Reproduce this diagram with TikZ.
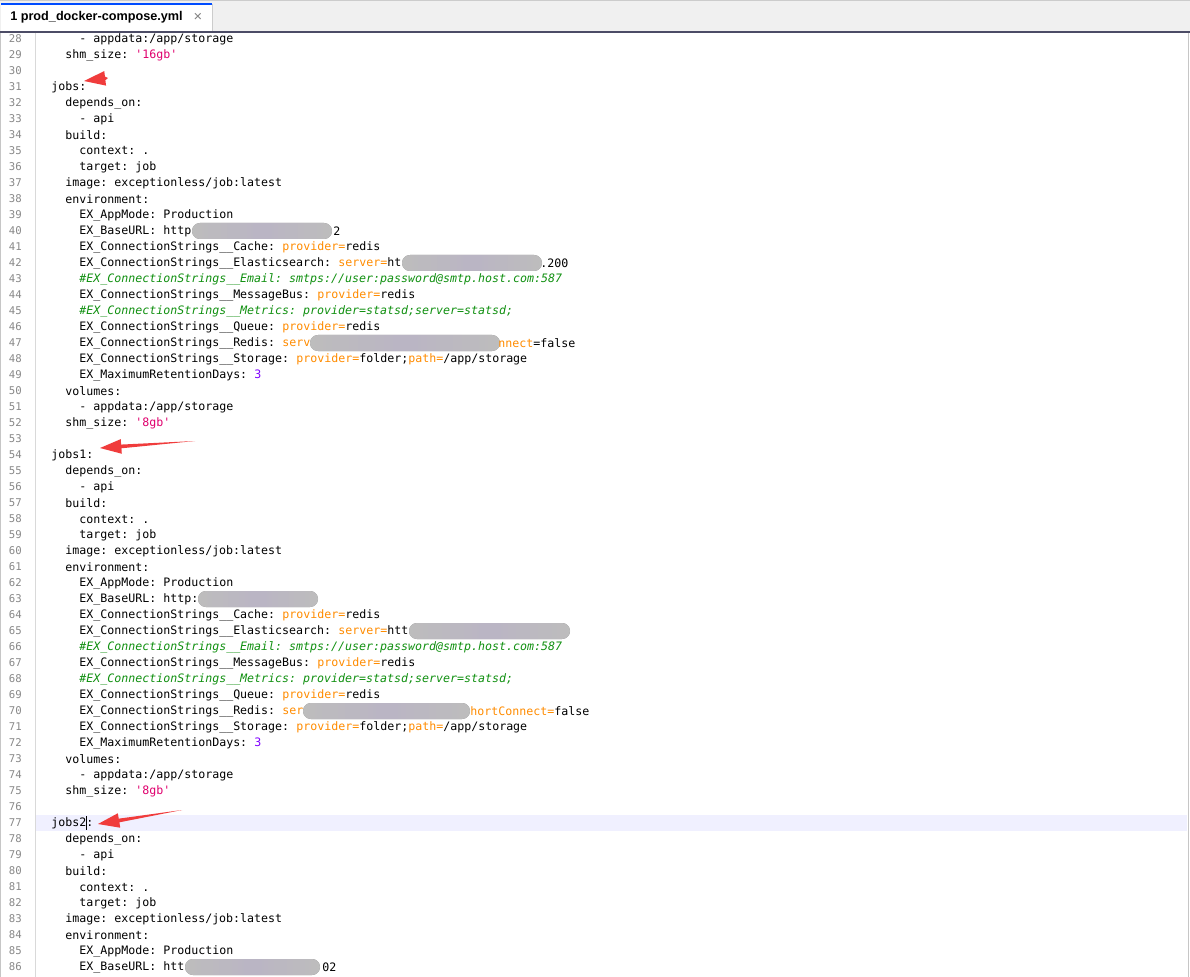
\documentclass[tikz,border=0pt]{standalone}
\usepackage{fontspec}
\usetikzlibrary{calc}
\setmonofont{DejaVu Sans Mono}
\setsansfont{Liberation Sans}
\definecolor{kw}{HTML}{FF8C00}
\definecolor{str}{HTML}{E0006E}
\definecolor{cmt}{HTML}{109010}
\definecolor{num}{HTML}{8000FF}
\definecolor{lnum}{HTML}{888888}
\definecolor{arrred}{HTML}{F03C3C}
\definecolor{blurA}{HTML}{EDEDED}
\definecolor{blurB}{HTML}{EAE2F8}
\newcommand{\K}[1]{\textcolor{kw}{#1}}
\newcommand{\Sq}[1]{\textcolor{str}{#1}}
\newcommand{\Cm}[1]{\textcolor{cmt}{\itshape #1}}
\newcommand{\Nm}[1]{\textcolor{num}{#1}}
\newcommand{\LN}[1]{\node[lnumtxt] (n#1) at (22,{39+16*(#1-28)}) {#1};}
\newcommand{\Ln}[3]{\node[codetxt] (c#1) at ({51+7*#2},{39+16*(#1-28)}) {#3};}
\newcommand{\Tx}[3]{\node[codetxt] at (#1,{39+16*(#2-28)}) {#3};}
\newcommand{\Bl}[3]{\fill[rounded corners=6pt,opacity=0.7,left color=blurA,right color=blurA,middle color=blurB] (#1,{39+16*(#3-28)-8}) rectangle (#2,{39+16*(#3-28)+8});}
\newcommand{\Arr}[3]{% tail, tip, name
  \coordinate (#3s) at #1; \coordinate (#3t) at #2;
  \coordinate (#3b) at ($(#3t)!16pt!(#3s)$);
  \fill[arrred] (#3s) -- ($(#3b)!1.4pt!90:(#3t)$) -- ($(#3b)!5.5pt!90:(#3t)$) -- (#3t) -- ($(#3b)!5.5pt!-90:(#3t)$) -- ($(#3b)!1.4pt!-90:(#3t)$) -- cycle;}
\tikzset{codetxt/.style={anchor=west,inner sep=0pt,font=\ttfamily\fontsize{8.72}{10}\selectfont},
lnumtxt/.style={anchor=east,inner sep=0pt,text=lnum,font=\ttfamily\fontsize{8}{10}\selectfont}}
\begin{document}
\begin{tikzpicture}[x=0.75pt,y=-0.75pt]
\useasboundingbox (0,0) rectangle (1190,977);
\fill[white] (0,0) rectangle (1190,977);
% tab bar
\fill[gray!12] (0,0) rectangle (1190,31);
\draw[gray!40] (0,0.5) -- (1190,0.5);
\fill[white] (1,4) rectangle (212,31);
\draw[gray!40] (212,4) -- (212,31);
\fill[blue!70!cyan] (1,3) rectangle (212,5);
\node[anchor=west,inner sep=0pt,font=\sffamily\bfseries\fontsize{9.5}{12}\selectfont] (tab) at (10,17) {1 prod\_docker-compose.yml};
\node[inner sep=0pt,text=gray,font=\sffamily\fontsize{11}{12}\selectfont] (close) at (198,17) {×};
\fill[black!75!blue!40!gray] (0,31) rectangle (1190,33.5);
% gutter + border
\draw[gray!30] (35,33) -- (35,977);
\draw[gray!45] (1188,33) -- (1188,977);
\draw[gray!45] (0.5,33) -- (0.5,977);
% highlight line 77
\fill[blue!6] (36,{39+16*49-8}) rectangle (1187,{39+16*49+8});
\foreach \i in {28,...,86} {\LN{\i}}
\Ln{28}{4}{- appdata:/app/storage}
\Ln{29}{2}{shm\_size: \Sq{'16gb'}}
\Ln{31}{0}{jobs:}
\Ln{32}{2}{depends\_on:}
\Ln{33}{4}{- api}
\Ln{34}{2}{build:}
\Ln{35}{4}{context: .}
\Ln{36}{4}{target: job}
\Ln{37}{2}{image: exceptionless/job:latest}
\Ln{38}{2}{environment:}
\Ln{39}{4}{EX\_AppMode: Production}
\Ln{40}{4}{EX\_BaseURL: http}
\Bl{192}{332}{40}\Tx{333}{40}{2}
\Ln{41}{4}{EX\_ConnectionStrings\_\_Cache: \K{provider=}redis}
\Ln{42}{4}{EX\_ConnectionStrings\_\_Elasticsearch: \K{server=}ht}
\Bl{402}{542}{42}\Tx{540}{42}{.200}
\Ln{43}{4}{\Cm{\#EX\_ConnectionStrings\_\_Email: smtps://user:password@smtp.host.com:587}}
\Ln{44}{4}{EX\_ConnectionStrings\_\_MessageBus: \K{provider=}redis}
\Ln{45}{4}{\Cm{\#EX\_ConnectionStrings\_\_Metrics: provider=statsd;server=statsd;}}
\Ln{46}{4}{EX\_ConnectionStrings\_\_Queue: \K{provider=}redis}
\Ln{47}{4}{EX\_ConnectionStrings\_\_Redis: \K{serv}}
\Bl{310}{500}{47}\Tx{498}{47}{\K{nnect}=false}
\Ln{48}{4}{EX\_ConnectionStrings\_\_Storage: \K{provider=}folder;\K{path=}/app/storage}
\Ln{49}{4}{EX\_MaximumRetentionDays: \Nm{3}}
\Ln{50}{2}{volumes:}
\Ln{51}{4}{- appdata:/app/storage}
\Ln{52}{2}{shm\_size: \Sq{'8gb'}}
\Ln{54}{0}{jobs1:}
\Ln{55}{2}{depends\_on:}
\Ln{56}{4}{- api}
\Ln{57}{2}{build:}
\Ln{58}{4}{context: .}
\Ln{59}{4}{target: job}
\Ln{60}{2}{image: exceptionless/job:latest}
\Ln{61}{2}{environment:}
\Ln{62}{4}{EX\_AppMode: Production}
\Ln{63}{4}{EX\_BaseURL: http:}
\Bl{198}{318}{63}
\Ln{64}{4}{EX\_ConnectionStrings\_\_Cache: \K{provider=}redis}
\Ln{65}{4}{EX\_ConnectionStrings\_\_Elasticsearch: \K{server=}htt}
\Bl{409}{570}{65}
\Ln{66}{4}{\Cm{\#EX\_ConnectionStrings\_\_Email: smtps://user:password@smtp.host.com:587}}
\Ln{67}{4}{EX\_ConnectionStrings\_\_MessageBus: \K{provider=}redis}
\Ln{68}{4}{\Cm{\#EX\_ConnectionStrings\_\_Metrics: provider=statsd;server=statsd;}}
\Ln{69}{4}{EX\_ConnectionStrings\_\_Queue: \K{provider=}redis}
\Ln{70}{4}{EX\_ConnectionStrings\_\_Redis: \K{ser}}
\Bl{303}{470}{70}\Tx{470}{70}{\K{hortConnect=}false}
\Ln{71}{4}{EX\_ConnectionStrings\_\_Storage: \K{provider=}folder;\K{path=}/app/storage}
\Ln{72}{4}{EX\_MaximumRetentionDays: \Nm{3}}
\Ln{73}{2}{volumes:}
\Ln{74}{4}{- appdata:/app/storage}
\Ln{75}{2}{shm\_size: \Sq{'8gb'}}
\Ln{77}{0}{jobs2:}
\Ln{78}{2}{depends\_on:}
\Ln{79}{4}{- api}
\Ln{80}{2}{build:}
\Ln{81}{4}{context: .}
\Ln{82}{4}{target: job}
\Ln{83}{2}{image: exceptionless/job:latest}
\Ln{84}{2}{environment:}
\Ln{85}{4}{EX\_AppMode: Production}
\Ln{86}{4}{EX\_BaseURL: htt}
\Bl{185}{320}{86}\Tx{322}{86}{02}
% cursor
\draw (86,{39+16*49-7}) -- (86,{39+16*49+7});
% arrows
\Arr{(108,78)}{(84,81)}{a1}
\Arr{(195,441)}{(100,448)}{a2}
\Arr{(182,810)}{(98,824)}{a3}
\end{tikzpicture}
\end{document}
